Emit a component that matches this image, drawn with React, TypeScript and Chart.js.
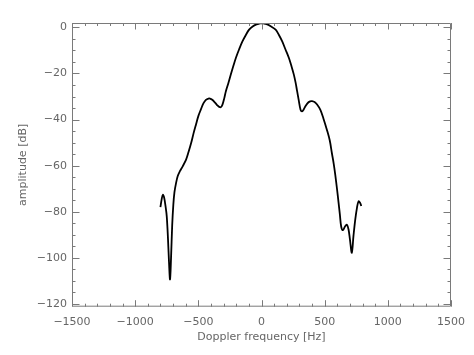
import React, { useEffect, useRef } from "react";
import { Chart, registerables } from "chart.js";

Chart.register(...registerables);

const freqHz = [
  -800, -790, -781, -770, -760, -750, -740, -732, -724, -716, -707, -698, -689, -676, -663, -645, -624, -597, -577,
  -557, -538, -518, -500, -479, -460, -440, -420, -408, -390, -370, -350, -335, -321, -309, -295, -282, -262, -243,
  -223, -203, -177, -151, -125, -98, -70, -40, -15, 0, 15, 40, 70, 112, 138, 164, 190, 217, 237, 256, 270, 282, 296,
  309, 321, 335, 350, 370, 385, 400, 420, 440, 466, 490, 518, 540, 557, 572, 584, 597, 610, 620, 631, 645, 660, 676,
  689, 700, 715, 728, 742, 755, 768, 781, 790,
];
const ampDb = [
  -78, -74.5, -72.6, -74, -77.5, -82, -92, -102, -109.4, -100, -86, -77, -71.5, -67.5, -64.5, -62.3, -60.3, -57.4,
  -54, -50.2, -46, -42, -38.5, -35.5, -33, -31.5, -30.9, -30.9, -31.4, -32.5, -33.8, -34.5, -34.6, -33.5, -30.8,
  -27.7, -24.1, -20.5, -16.8, -13.3, -9.5, -6.1, -3.4, -1.0, 0.4, 1.3, 1.7, 1.8, 1.7, 1.4, 0.6, -1.0, -3.3, -6.1,
  -9.6, -13.3, -16.8, -20.5, -24, -27.7, -32, -35.7, -36.4, -35.5, -34, -32.6, -32.1, -32.0, -32.4, -33.5, -35.8,
  -39.5, -44.5, -49, -54.5, -59.3, -64, -69.8, -76, -81, -86.5, -88, -86.5, -85.6, -87.7, -92, -97.8, -90.5,
  -83.4, -78.5, -75.5, -76.2, -77.5,
];

const xMajorTicks = [-1500, -1000, -500, 0, 500, 1000, 1500];
const xMinorTicks = [
  -1400, -1300, -1200, -1100, -900, -800, -700, -600, -400, -300, -200, -100, 100, 200, 300, 400, 600, 700, 800, 900,
  1100, 1200, 1300, 1400,
];
const yMajorTicks = [-120, -100, -80, -60, -40, -20, 0];
const yMinorTicks = [
  -115, -110, -105, -95, -90, -85, -75, -70, -65, -55, -50, -45, -35, -30, -25, -15, -10, -5,
];

const xTitle = "Doppler frequency [Hz]";
const yTitle = "amplitude [dB]";

const FRAME = "#7a7a7a";
const TEXT = "#666666";

const fmt = (v: number) => (v < 0 ? "\u2212" + Math.abs(v) : String(v));

const framePlugin = {
  id: "idlFrame",
  afterDraw(chart: any) {
    const { ctx, chartArea: a, scales } = chart;
    const xs = scales.x;
    const ys = scales.y;
    ctx.save();
    ctx.strokeStyle = FRAME;
    ctx.lineWidth = 1;
    ctx.beginPath();
    ctx.rect(a.left + 0.5, a.top + 0.5, a.right - a.left - 1, a.bottom - a.top - 1);
    ctx.stroke();
    const xt = (v: number, len: number) => {
      const p = Math.round(xs.getPixelForValue(v)) + 0.5;
      ctx.moveTo(p, a.bottom);
      ctx.lineTo(p, a.bottom - len);
      ctx.moveTo(p, a.top);
      ctx.lineTo(p, a.top + len);
    };
    const yt = (v: number, len: number) => {
      const p = Math.round(ys.getPixelForValue(v)) + 0.5;
      ctx.moveTo(a.left, p);
      ctx.lineTo(a.left + len, p);
      ctx.moveTo(a.right, p);
      ctx.lineTo(a.right - len, p);
    };
    ctx.beginPath();
    xMajorTicks.forEach((v) => xt(v, 6.5));
    xMinorTicks.forEach((v) => xt(v, 3));
    yMajorTicks.forEach((v) => yt(v, 7.5));
    yMinorTicks.forEach((v) => yt(v, 3.5));
    ctx.stroke();
    ctx.restore();
  },
};

export default function App() {
  const ref = useRef<HTMLCanvasElement | null>(null);
  useEffect(() => {
    if (!ref.current) return;
    Chart.defaults.font.family = "'DejaVu Sans', sans-serif";
    const chart = new Chart(ref.current, {
      type: "line",
      data: {
        datasets: [
          {
            data: freqHz.map((f, i) => ({ x: f, y: ampDb[i] })),
            borderColor: "#000000",
            borderWidth: 1.8,
            pointRadius: 0,
            tension: 0.35,
            fill: false,
          },
        ],
      },
      options: {
        responsive: false,
        animation: false,
        events: [],
        layout: { padding: { top: 23, right: 21, left: 0, bottom: 0 } },
        plugins: { legend: { display: false }, tooltip: { enabled: false }, title: { display: false } },
        scales: {
          x: {
            type: "linear",
            min: -1500,
            max: 1500,
            grid: { display: false, drawTicks: false },
            border: { display: false },
            afterBuildTicks: (s: any) => {
              s.ticks = xMajorTicks.map((v) => ({ value: v }));
            },
            afterFit: (s: any) => {
              s.height = 48.3;
            },
            ticks: {
              autoSkip: false,
              maxRotation: 0,
              padding: 9,
              color: TEXT,
              font: { size: 11 },
              callback: (v: any) => fmt(Number(v)),
            },
            title: {
              display: true,
              text: xTitle,
              color: TEXT,
              font: { size: 11 },
              padding: { top: 0, bottom: 11.4 },
            },
          },
          y: {
            type: "linear",
            min: -121.2,
            max: 1.9,
            grid: { display: false, drawTicks: false },
            border: { display: false },
            afterBuildTicks: (s: any) => {
              s.ticks = yMajorTicks.map((v) => ({ value: v }));
            },
            afterFit: (s: any) => {
              s.width = 72;
            },
            ticks: {
              autoSkip: false,
              padding: 5,
              color: TEXT,
              font: { size: 11 },
              callback: (v: any) => fmt(Number(v)),
            },
            title: {
              display: true,
              text: yTitle,
              color: TEXT,
              font: { size: 11 },
              padding: { top: 16.4, bottom: 0 },
            },
          },
        },
      },
      plugins: [framePlugin],
    } as any);
    return () => chart.destroy();
  }, []);
  return (
    <div style={{ position: "fixed", left: 0, top: 0, width: 474, height: 355, background: "#fff" }}>
      <canvas ref={ref} width={474} height={355} style={{ width: 474, height: 355 }} />
    </div>
  );
}
